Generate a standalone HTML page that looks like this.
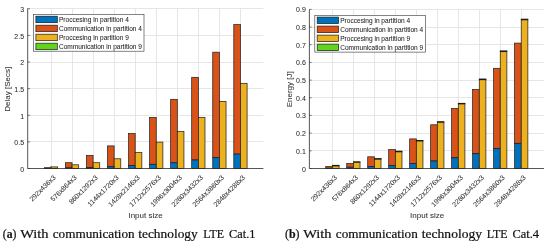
<!DOCTYPE html>
<html><head><meta charset="utf-8"><title>Figure</title>
<style>
html,body{margin:0;padding:0;background:#fff;}
body{width:550px;height:245px;overflow:hidden;position:relative;}
svg{position:absolute;left:0;top:0;font-family:"Liberation Sans",Arial,sans-serif;}
.ch text{stroke:#333;stroke-width:0.05px;}
.cap{font-family:"Liberation Serif","DejaVu Serif",serif;font-size:12.1px;fill:#111;stroke:#111;stroke-width:0.2px;}
</style></head><body>
<svg width="550" height="245" viewBox="0 0 550 245">
<g class="ch">
<line x1="51.50" y1="8.4" x2="51.50" y2="168.5" stroke="#e6e6e6" stroke-width="1"/>
<line x1="72.50" y1="8.4" x2="72.50" y2="168.5" stroke="#e6e6e6" stroke-width="1"/>
<line x1="93.50" y1="8.4" x2="93.50" y2="168.5" stroke="#e6e6e6" stroke-width="1"/>
<line x1="114.50" y1="8.4" x2="114.50" y2="168.5" stroke="#e6e6e6" stroke-width="1"/>
<line x1="135.50" y1="8.4" x2="135.50" y2="168.5" stroke="#e6e6e6" stroke-width="1"/>
<line x1="156.50" y1="8.4" x2="156.50" y2="168.5" stroke="#e6e6e6" stroke-width="1"/>
<line x1="177.50" y1="8.4" x2="177.50" y2="168.5" stroke="#e6e6e6" stroke-width="1"/>
<line x1="198.50" y1="8.4" x2="198.50" y2="168.5" stroke="#e6e6e6" stroke-width="1"/>
<line x1="219.50" y1="8.4" x2="219.50" y2="168.5" stroke="#e6e6e6" stroke-width="1"/>
<line x1="240.50" y1="8.4" x2="240.50" y2="168.5" stroke="#e6e6e6" stroke-width="1"/>
<line x1="27.7" y1="141.50" x2="263.4" y2="141.50" stroke="#e6e6e6" stroke-width="1"/>
<line x1="27.7" y1="115.50" x2="263.4" y2="115.50" stroke="#e6e6e6" stroke-width="1"/>
<line x1="27.7" y1="88.50" x2="263.4" y2="88.50" stroke="#e6e6e6" stroke-width="1"/>
<line x1="27.7" y1="62.50" x2="263.4" y2="62.50" stroke="#e6e6e6" stroke-width="1"/>
<line x1="27.7" y1="35.50" x2="263.4" y2="35.50" stroke="#e6e6e6" stroke-width="1"/>
<line x1="27.7" y1="8.50" x2="263.4" y2="8.50" stroke="#e6e6e6" stroke-width="1"/>
<rect x="44.35" y="167.70" width="6.65" height="0.60" fill="#D95319" stroke="#1a1a1a" stroke-width="0.7"/>
<rect x="44.35" y="168.30" width="6.65" height="0.20" fill="#0072BD" stroke="#1a1a1a" stroke-width="0.7"/>
<rect x="51.00" y="166.90" width="6.65" height="1.60" fill="#EDB120" stroke="#1a1a1a" stroke-width="0.7"/>
<rect x="65.40" y="162.70" width="6.65" height="5.20" fill="#D95319" stroke="#1a1a1a" stroke-width="0.7"/>
<rect x="65.40" y="167.90" width="6.65" height="0.60" fill="#0072BD" stroke="#1a1a1a" stroke-width="0.7"/>
<rect x="72.05" y="164.80" width="6.65" height="3.70" fill="#EDB120" stroke="#1a1a1a" stroke-width="0.7"/>
<rect x="86.45" y="155.50" width="6.65" height="11.90" fill="#D95319" stroke="#1a1a1a" stroke-width="0.7"/>
<rect x="86.45" y="167.40" width="6.65" height="1.10" fill="#0072BD" stroke="#1a1a1a" stroke-width="0.7"/>
<rect x="93.10" y="162.70" width="6.65" height="5.80" fill="#EDB120" stroke="#1a1a1a" stroke-width="0.7"/>
<rect x="107.50" y="145.90" width="6.65" height="20.90" fill="#D95319" stroke="#1a1a1a" stroke-width="0.7"/>
<rect x="107.50" y="166.80" width="6.65" height="1.70" fill="#0072BD" stroke="#1a1a1a" stroke-width="0.7"/>
<rect x="114.15" y="158.80" width="6.65" height="9.70" fill="#EDB120" stroke="#1a1a1a" stroke-width="0.7"/>
<rect x="128.55" y="133.50" width="6.65" height="32.10" fill="#D95319" stroke="#1a1a1a" stroke-width="0.7"/>
<rect x="128.55" y="165.60" width="6.65" height="2.90" fill="#0072BD" stroke="#1a1a1a" stroke-width="0.7"/>
<rect x="135.20" y="152.50" width="6.65" height="16.00" fill="#EDB120" stroke="#1a1a1a" stroke-width="0.7"/>
<rect x="149.60" y="117.50" width="6.65" height="46.80" fill="#D95319" stroke="#1a1a1a" stroke-width="0.7"/>
<rect x="149.60" y="164.30" width="6.65" height="4.20" fill="#0072BD" stroke="#1a1a1a" stroke-width="0.7"/>
<rect x="156.25" y="142.10" width="6.65" height="26.40" fill="#EDB120" stroke="#1a1a1a" stroke-width="0.7"/>
<rect x="170.65" y="99.30" width="6.65" height="63.50" fill="#D95319" stroke="#1a1a1a" stroke-width="0.7"/>
<rect x="170.65" y="162.80" width="6.65" height="5.70" fill="#0072BD" stroke="#1a1a1a" stroke-width="0.7"/>
<rect x="177.30" y="131.50" width="6.65" height="37.00" fill="#EDB120" stroke="#1a1a1a" stroke-width="0.7"/>
<rect x="191.70" y="77.30" width="6.65" height="82.70" fill="#D95319" stroke="#1a1a1a" stroke-width="0.7"/>
<rect x="191.70" y="160.00" width="6.65" height="8.50" fill="#0072BD" stroke="#1a1a1a" stroke-width="0.7"/>
<rect x="198.35" y="117.50" width="6.65" height="51.00" fill="#EDB120" stroke="#1a1a1a" stroke-width="0.7"/>
<rect x="212.75" y="52.20" width="6.65" height="105.30" fill="#D95319" stroke="#1a1a1a" stroke-width="0.7"/>
<rect x="212.75" y="157.50" width="6.65" height="11.00" fill="#0072BD" stroke="#1a1a1a" stroke-width="0.7"/>
<rect x="219.40" y="101.40" width="6.65" height="67.10" fill="#EDB120" stroke="#1a1a1a" stroke-width="0.7"/>
<rect x="233.80" y="24.60" width="6.65" height="129.50" fill="#D95319" stroke="#1a1a1a" stroke-width="0.7"/>
<rect x="233.80" y="154.10" width="6.65" height="14.40" fill="#0072BD" stroke="#1a1a1a" stroke-width="0.7"/>
<rect x="240.45" y="83.30" width="6.65" height="85.20" fill="#EDB120" stroke="#1a1a1a" stroke-width="0.7"/>
<path d="M27.7 8.4V168.5H263.4" fill="none" stroke="#2a2a2a" stroke-width="0.8"/>
<line x1="27.7" y1="168.50" x2="30.0" y2="168.50" stroke="#333" stroke-width="0.6"/>
<text x="24.10" y="171.90" text-anchor="end" font-size="7" fill="#2b2b2b">0</text>
<line x1="27.7" y1="141.87" x2="30.0" y2="141.87" stroke="#333" stroke-width="0.6"/>
<text x="24.10" y="145.27" text-anchor="end" font-size="7" fill="#2b2b2b">0.5</text>
<line x1="27.7" y1="115.24" x2="30.0" y2="115.24" stroke="#333" stroke-width="0.6"/>
<text x="24.10" y="118.64" text-anchor="end" font-size="7" fill="#2b2b2b">1</text>
<line x1="27.7" y1="88.61" x2="30.0" y2="88.61" stroke="#333" stroke-width="0.6"/>
<text x="24.10" y="92.01" text-anchor="end" font-size="7" fill="#2b2b2b">1.5</text>
<line x1="27.7" y1="61.98" x2="30.0" y2="61.98" stroke="#333" stroke-width="0.6"/>
<text x="24.10" y="65.38" text-anchor="end" font-size="7" fill="#2b2b2b">2</text>
<line x1="27.7" y1="35.35" x2="30.0" y2="35.35" stroke="#333" stroke-width="0.6"/>
<text x="24.10" y="38.75" text-anchor="end" font-size="7" fill="#2b2b2b">2.5</text>
<line x1="27.7" y1="8.72" x2="30.0" y2="8.72" stroke="#333" stroke-width="0.6"/>
<text x="24.10" y="12.12" text-anchor="end" font-size="7" fill="#2b2b2b">3</text>
<line x1="51.00" y1="168.5" x2="51.00" y2="166.2" stroke="#333" stroke-width="0.6"/>
<text transform="translate(56.10,178.0) rotate(-45)" text-anchor="end" font-size="6.9" fill="#2b2b2b">292x436x3</text>
<line x1="72.05" y1="168.5" x2="72.05" y2="166.2" stroke="#333" stroke-width="0.6"/>
<text transform="translate(77.15,178.0) rotate(-45)" text-anchor="end" font-size="6.9" fill="#2b2b2b">576x864x3</text>
<line x1="93.10" y1="168.5" x2="93.10" y2="166.2" stroke="#333" stroke-width="0.6"/>
<text transform="translate(98.20,178.0) rotate(-45)" text-anchor="end" font-size="6.9" fill="#2b2b2b">860x1292x3</text>
<line x1="114.15" y1="168.5" x2="114.15" y2="166.2" stroke="#333" stroke-width="0.6"/>
<text transform="translate(119.25,178.0) rotate(-45)" text-anchor="end" font-size="6.9" fill="#2b2b2b">1144x1720x3</text>
<line x1="135.20" y1="168.5" x2="135.20" y2="166.2" stroke="#333" stroke-width="0.6"/>
<text transform="translate(140.30,178.0) rotate(-45)" text-anchor="end" font-size="6.9" fill="#2b2b2b">1428x2146x3</text>
<line x1="156.25" y1="168.5" x2="156.25" y2="166.2" stroke="#333" stroke-width="0.6"/>
<text transform="translate(161.35,178.0) rotate(-45)" text-anchor="end" font-size="6.9" fill="#2b2b2b">1712x2576x3</text>
<line x1="177.30" y1="168.5" x2="177.30" y2="166.2" stroke="#333" stroke-width="0.6"/>
<text transform="translate(182.40,178.0) rotate(-45)" text-anchor="end" font-size="6.9" fill="#2b2b2b">1996x3004x3</text>
<line x1="198.35" y1="168.5" x2="198.35" y2="166.2" stroke="#333" stroke-width="0.6"/>
<text transform="translate(203.45,178.0) rotate(-45)" text-anchor="end" font-size="6.9" fill="#2b2b2b">2280x3432x3</text>
<line x1="219.40" y1="168.5" x2="219.40" y2="166.2" stroke="#333" stroke-width="0.6"/>
<text transform="translate(224.50,178.0) rotate(-45)" text-anchor="end" font-size="6.9" fill="#2b2b2b">2564x3860x3</text>
<line x1="240.45" y1="168.5" x2="240.45" y2="166.2" stroke="#333" stroke-width="0.6"/>
<text transform="translate(245.55,178.0) rotate(-45)" text-anchor="end" font-size="6.9" fill="#2b2b2b">2848x4288x3</text>
<text x="145.55" y="217.6" text-anchor="middle" font-size="8" fill="#333">Input size</text>
<text transform="translate(9.8,89.3) rotate(-90)" text-anchor="middle" font-size="8" fill="#333">Delay [Secs]</text>
<rect x="33.5" y="14.6" width="110.5" height="36.6" fill="#fff" stroke="#333" stroke-width="0.6"/>
<rect x="35.90" y="16.20" width="21.4" height="6.5" fill="#0072BD" stroke="#1a1a1a" stroke-width="0.7"/>
<text x="58.95" y="22.10" font-size="6.55" fill="#222">Proccesing in partition 4</text>
<rect x="35.90" y="25.20" width="21.4" height="6.5" fill="#D95319" stroke="#1a1a1a" stroke-width="0.7"/>
<text x="58.95" y="31.10" font-size="6.55" fill="#222">Communication in partition 4</text>
<rect x="35.90" y="34.20" width="21.4" height="6.5" fill="#EDB120" stroke="#1a1a1a" stroke-width="0.7"/>
<text x="58.95" y="40.10" font-size="6.55" fill="#222">Proccesing in partition 9</text>
<rect x="35.90" y="43.20" width="21.4" height="6.5" fill="#62D420" stroke="#1a1a1a" stroke-width="0.7"/>
<text x="58.95" y="49.10" font-size="6.55" fill="#222">Communication in partition 9</text>
<line x1="332.50" y1="9.35" x2="332.50" y2="168.5" stroke="#e6e6e6" stroke-width="1"/>
<line x1="353.50" y1="9.35" x2="353.50" y2="168.5" stroke="#e6e6e6" stroke-width="1"/>
<line x1="374.50" y1="9.35" x2="374.50" y2="168.5" stroke="#e6e6e6" stroke-width="1"/>
<line x1="395.50" y1="9.35" x2="395.50" y2="168.5" stroke="#e6e6e6" stroke-width="1"/>
<line x1="416.50" y1="9.35" x2="416.50" y2="168.5" stroke="#e6e6e6" stroke-width="1"/>
<line x1="437.50" y1="9.35" x2="437.50" y2="168.5" stroke="#e6e6e6" stroke-width="1"/>
<line x1="458.50" y1="9.35" x2="458.50" y2="168.5" stroke="#e6e6e6" stroke-width="1"/>
<line x1="479.50" y1="9.35" x2="479.50" y2="168.5" stroke="#e6e6e6" stroke-width="1"/>
<line x1="500.50" y1="9.35" x2="500.50" y2="168.5" stroke="#e6e6e6" stroke-width="1"/>
<line x1="521.50" y1="9.35" x2="521.50" y2="168.5" stroke="#e6e6e6" stroke-width="1"/>
<line x1="309.4" y1="150.50" x2="544" y2="150.50" stroke="#e6e6e6" stroke-width="1"/>
<line x1="309.4" y1="133.50" x2="544" y2="133.50" stroke="#e6e6e6" stroke-width="1"/>
<line x1="309.4" y1="115.50" x2="544" y2="115.50" stroke="#e6e6e6" stroke-width="1"/>
<line x1="309.4" y1="97.50" x2="544" y2="97.50" stroke="#e6e6e6" stroke-width="1"/>
<line x1="309.4" y1="80.50" x2="544" y2="80.50" stroke="#e6e6e6" stroke-width="1"/>
<line x1="309.4" y1="62.50" x2="544" y2="62.50" stroke="#e6e6e6" stroke-width="1"/>
<line x1="309.4" y1="44.50" x2="544" y2="44.50" stroke="#e6e6e6" stroke-width="1"/>
<line x1="309.4" y1="27.50" x2="544" y2="27.50" stroke="#e6e6e6" stroke-width="1"/>
<line x1="309.4" y1="9.50" x2="544" y2="9.50" stroke="#e6e6e6" stroke-width="1"/>
<rect x="325.75" y="166.60" width="6.65" height="1.60" fill="#D95319" stroke="#1a1a1a" stroke-width="0.7"/>
<rect x="325.75" y="168.20" width="6.65" height="0.30" fill="#0072BD" stroke="#1a1a1a" stroke-width="0.7"/>
<rect x="332.40" y="165.30" width="6.65" height="3.20" fill="#EDB120" stroke="#1a1a1a" stroke-width="0.7"/>
<rect x="332.40" y="165.30" width="6.65" height="0.7" fill="#62D420" stroke="#1a1a1a" stroke-width="0.7"/>
<rect x="346.73" y="163.50" width="6.65" height="3.70" fill="#D95319" stroke="#1a1a1a" stroke-width="0.7"/>
<rect x="346.73" y="167.20" width="6.65" height="1.30" fill="#0072BD" stroke="#1a1a1a" stroke-width="0.7"/>
<rect x="353.38" y="161.90" width="6.65" height="6.60" fill="#EDB120" stroke="#1a1a1a" stroke-width="0.7"/>
<rect x="353.38" y="161.90" width="6.65" height="0.7" fill="#62D420" stroke="#1a1a1a" stroke-width="0.7"/>
<rect x="367.71" y="156.80" width="6.65" height="9.90" fill="#D95319" stroke="#1a1a1a" stroke-width="0.7"/>
<rect x="367.71" y="166.70" width="6.65" height="1.80" fill="#0072BD" stroke="#1a1a1a" stroke-width="0.7"/>
<rect x="374.36" y="158.60" width="6.65" height="9.90" fill="#EDB120" stroke="#1a1a1a" stroke-width="0.7"/>
<rect x="374.36" y="158.60" width="6.65" height="0.7" fill="#62D420" stroke="#1a1a1a" stroke-width="0.7"/>
<rect x="388.69" y="149.60" width="6.65" height="16.00" fill="#D95319" stroke="#1a1a1a" stroke-width="0.7"/>
<rect x="388.69" y="165.60" width="6.65" height="2.90" fill="#0072BD" stroke="#1a1a1a" stroke-width="0.7"/>
<rect x="395.34" y="151.20" width="6.65" height="17.30" fill="#EDB120" stroke="#1a1a1a" stroke-width="0.7"/>
<rect x="395.34" y="151.20" width="6.65" height="0.7" fill="#62D420" stroke="#1a1a1a" stroke-width="0.7"/>
<rect x="409.67" y="138.90" width="6.65" height="24.50" fill="#D95319" stroke="#1a1a1a" stroke-width="0.7"/>
<rect x="409.67" y="163.40" width="6.65" height="5.10" fill="#0072BD" stroke="#1a1a1a" stroke-width="0.7"/>
<rect x="416.32" y="140.40" width="6.65" height="28.10" fill="#EDB120" stroke="#1a1a1a" stroke-width="0.7"/>
<rect x="416.32" y="140.40" width="6.65" height="0.7" fill="#62D420" stroke="#1a1a1a" stroke-width="0.7"/>
<rect x="430.65" y="124.80" width="6.65" height="36.20" fill="#D95319" stroke="#1a1a1a" stroke-width="0.7"/>
<rect x="430.65" y="161.00" width="6.65" height="7.50" fill="#0072BD" stroke="#1a1a1a" stroke-width="0.7"/>
<rect x="437.30" y="121.80" width="6.65" height="46.70" fill="#EDB120" stroke="#1a1a1a" stroke-width="0.7"/>
<rect x="437.30" y="121.80" width="6.65" height="0.7" fill="#62D420" stroke="#1a1a1a" stroke-width="0.7"/>
<rect x="451.63" y="108.50" width="6.65" height="49.30" fill="#D95319" stroke="#1a1a1a" stroke-width="0.7"/>
<rect x="451.63" y="157.80" width="6.65" height="10.70" fill="#0072BD" stroke="#1a1a1a" stroke-width="0.7"/>
<rect x="458.28" y="103.30" width="6.65" height="65.20" fill="#EDB120" stroke="#1a1a1a" stroke-width="0.7"/>
<rect x="458.28" y="103.30" width="6.65" height="0.7" fill="#62D420" stroke="#1a1a1a" stroke-width="0.7"/>
<rect x="472.61" y="89.50" width="6.65" height="64.20" fill="#D95319" stroke="#1a1a1a" stroke-width="0.7"/>
<rect x="472.61" y="153.70" width="6.65" height="14.80" fill="#0072BD" stroke="#1a1a1a" stroke-width="0.7"/>
<rect x="479.26" y="79.10" width="6.65" height="89.40" fill="#EDB120" stroke="#1a1a1a" stroke-width="0.7"/>
<rect x="479.26" y="79.10" width="6.65" height="0.7" fill="#62D420" stroke="#1a1a1a" stroke-width="0.7"/>
<rect x="493.59" y="68.30" width="6.65" height="80.40" fill="#D95319" stroke="#1a1a1a" stroke-width="0.7"/>
<rect x="493.59" y="148.70" width="6.65" height="19.80" fill="#0072BD" stroke="#1a1a1a" stroke-width="0.7"/>
<rect x="500.24" y="51.00" width="6.65" height="117.50" fill="#EDB120" stroke="#1a1a1a" stroke-width="0.7"/>
<rect x="500.24" y="51.00" width="6.65" height="0.7" fill="#62D420" stroke="#1a1a1a" stroke-width="0.7"/>
<rect x="514.57" y="43.10" width="6.65" height="100.20" fill="#D95319" stroke="#1a1a1a" stroke-width="0.7"/>
<rect x="514.57" y="143.30" width="6.65" height="25.20" fill="#0072BD" stroke="#1a1a1a" stroke-width="0.7"/>
<rect x="521.22" y="19.20" width="6.65" height="149.30" fill="#EDB120" stroke="#1a1a1a" stroke-width="0.7"/>
<rect x="521.22" y="19.20" width="6.65" height="0.7" fill="#62D420" stroke="#1a1a1a" stroke-width="0.7"/>
<path d="M309.4 9.35V168.5H544" fill="none" stroke="#2a2a2a" stroke-width="0.8"/>
<line x1="309.4" y1="168.50" x2="311.7" y2="168.50" stroke="#333" stroke-width="0.6"/>
<text x="305.80" y="172.10" text-anchor="end" font-size="7" fill="#2b2b2b">0</text>
<line x1="309.4" y1="150.82" x2="311.7" y2="150.82" stroke="#333" stroke-width="0.6"/>
<text x="305.80" y="153.89" text-anchor="end" font-size="7" fill="#2b2b2b">0.1</text>
<line x1="309.4" y1="133.14" x2="311.7" y2="133.14" stroke="#333" stroke-width="0.6"/>
<text x="305.80" y="136.18" text-anchor="end" font-size="7" fill="#2b2b2b">0.2</text>
<line x1="309.4" y1="115.46" x2="311.7" y2="115.46" stroke="#333" stroke-width="0.6"/>
<text x="305.80" y="118.48" text-anchor="end" font-size="7" fill="#2b2b2b">0.3</text>
<line x1="309.4" y1="97.78" x2="311.7" y2="97.78" stroke="#333" stroke-width="0.6"/>
<text x="305.80" y="100.77" text-anchor="end" font-size="7" fill="#2b2b2b">0.4</text>
<line x1="309.4" y1="80.10" x2="311.7" y2="80.10" stroke="#333" stroke-width="0.6"/>
<text x="305.80" y="83.06" text-anchor="end" font-size="7" fill="#2b2b2b">0.5</text>
<line x1="309.4" y1="62.42" x2="311.7" y2="62.42" stroke="#333" stroke-width="0.6"/>
<text x="305.80" y="65.35" text-anchor="end" font-size="7" fill="#2b2b2b">0.6</text>
<line x1="309.4" y1="44.74" x2="311.7" y2="44.74" stroke="#333" stroke-width="0.6"/>
<text x="305.80" y="47.65" text-anchor="end" font-size="7" fill="#2b2b2b">0.7</text>
<line x1="309.4" y1="27.06" x2="311.7" y2="27.06" stroke="#333" stroke-width="0.6"/>
<text x="305.80" y="29.94" text-anchor="end" font-size="7" fill="#2b2b2b">0.8</text>
<line x1="309.4" y1="9.38" x2="311.7" y2="9.38" stroke="#333" stroke-width="0.6"/>
<text x="305.80" y="12.23" text-anchor="end" font-size="7" fill="#2b2b2b">0.9</text>
<line x1="332.40" y1="168.5" x2="332.40" y2="166.2" stroke="#333" stroke-width="0.6"/>
<text transform="translate(337.50,178.0) rotate(-45)" text-anchor="end" font-size="6.9" fill="#2b2b2b">292x436x3</text>
<line x1="353.38" y1="168.5" x2="353.38" y2="166.2" stroke="#333" stroke-width="0.6"/>
<text transform="translate(358.48,178.0) rotate(-45)" text-anchor="end" font-size="6.9" fill="#2b2b2b">576x864x3</text>
<line x1="374.36" y1="168.5" x2="374.36" y2="166.2" stroke="#333" stroke-width="0.6"/>
<text transform="translate(379.46,178.0) rotate(-45)" text-anchor="end" font-size="6.9" fill="#2b2b2b">860x1292x3</text>
<line x1="395.34" y1="168.5" x2="395.34" y2="166.2" stroke="#333" stroke-width="0.6"/>
<text transform="translate(400.44,178.0) rotate(-45)" text-anchor="end" font-size="6.9" fill="#2b2b2b">1144x1720x3</text>
<line x1="416.32" y1="168.5" x2="416.32" y2="166.2" stroke="#333" stroke-width="0.6"/>
<text transform="translate(421.42,178.0) rotate(-45)" text-anchor="end" font-size="6.9" fill="#2b2b2b">1428x2146x3</text>
<line x1="437.30" y1="168.5" x2="437.30" y2="166.2" stroke="#333" stroke-width="0.6"/>
<text transform="translate(442.40,178.0) rotate(-45)" text-anchor="end" font-size="6.9" fill="#2b2b2b">1712x2576x3</text>
<line x1="458.28" y1="168.5" x2="458.28" y2="166.2" stroke="#333" stroke-width="0.6"/>
<text transform="translate(463.38,178.0) rotate(-45)" text-anchor="end" font-size="6.9" fill="#2b2b2b">1996x3004x3</text>
<line x1="479.26" y1="168.5" x2="479.26" y2="166.2" stroke="#333" stroke-width="0.6"/>
<text transform="translate(484.36,178.0) rotate(-45)" text-anchor="end" font-size="6.9" fill="#2b2b2b">2280x3432x3</text>
<line x1="500.24" y1="168.5" x2="500.24" y2="166.2" stroke="#333" stroke-width="0.6"/>
<text transform="translate(505.34,178.0) rotate(-45)" text-anchor="end" font-size="6.9" fill="#2b2b2b">2564x3860x3</text>
<line x1="521.22" y1="168.5" x2="521.22" y2="166.2" stroke="#333" stroke-width="0.6"/>
<text transform="translate(526.32,178.0) rotate(-45)" text-anchor="end" font-size="6.9" fill="#2b2b2b">2848x4288x3</text>
<text x="427.20" y="218.0" text-anchor="middle" font-size="8" fill="#333">Input size</text>
<text transform="translate(291.8,89.3) rotate(-90)" text-anchor="middle" font-size="8" fill="#333">Energy [J]</text>
<rect x="314.8" y="15.5" width="110.5" height="36.6" fill="#fff" stroke="#333" stroke-width="0.6"/>
<rect x="317.20" y="17.10" width="21.4" height="6.5" fill="#0072BD" stroke="#1a1a1a" stroke-width="0.7"/>
<text x="340.25" y="23.00" font-size="6.55" fill="#222">Proccesing in partition 4</text>
<rect x="317.20" y="26.10" width="21.4" height="6.5" fill="#D95319" stroke="#1a1a1a" stroke-width="0.7"/>
<text x="340.25" y="32.00" font-size="6.55" fill="#222">Communication in partition 4</text>
<rect x="317.20" y="35.10" width="21.4" height="6.5" fill="#EDB120" stroke="#1a1a1a" stroke-width="0.7"/>
<text x="340.25" y="41.00" font-size="6.55" fill="#222">Proccesing in partition 9</text>
<rect x="317.20" y="44.10" width="21.4" height="6.5" fill="#62D420" stroke="#1a1a1a" stroke-width="0.7"/>
<text x="340.25" y="50.00" font-size="6.55" fill="#222">Communication in partition 9</text>
</g>
<g class="cap">
<text x="2.8" y="237.6" textLength="13.6" lengthAdjust="spacingAndGlyphs">(<tspan font-weight="bold">a</tspan>)</text>
<text x="20.3" y="237.6" textLength="28.3" lengthAdjust="spacingAndGlyphs">With</text>
<text x="52.7" y="237.6" textLength="82" lengthAdjust="spacingAndGlyphs">communication</text>
<text x="138.3" y="237.6" textLength="59.4" lengthAdjust="spacingAndGlyphs">technology</text>
<text x="203.3" y="237.6" textLength="20.8" lengthAdjust="spacingAndGlyphs">LTE</text>
<text x="229.1" y="237.6" textLength="26.3" lengthAdjust="spacingAndGlyphs">Cat.1</text>
</g>
<g class="cap">
<text x="285" y="237.6" textLength="14.6" lengthAdjust="spacingAndGlyphs">(<tspan font-weight="bold">b</tspan>)</text>
<text x="303.2" y="237.6" textLength="28.3" lengthAdjust="spacingAndGlyphs">With</text>
<text x="335.8" y="237.6" textLength="82" lengthAdjust="spacingAndGlyphs">communication</text>
<text x="421.8" y="237.6" textLength="60.2" lengthAdjust="spacingAndGlyphs">technology</text>
<text x="486.8" y="237.6" textLength="20.8" lengthAdjust="spacingAndGlyphs">LTE</text>
<text x="512.4" y="237.6" textLength="26.6" lengthAdjust="spacingAndGlyphs">Cat.4</text>
</g>
</svg>
</body></html>
